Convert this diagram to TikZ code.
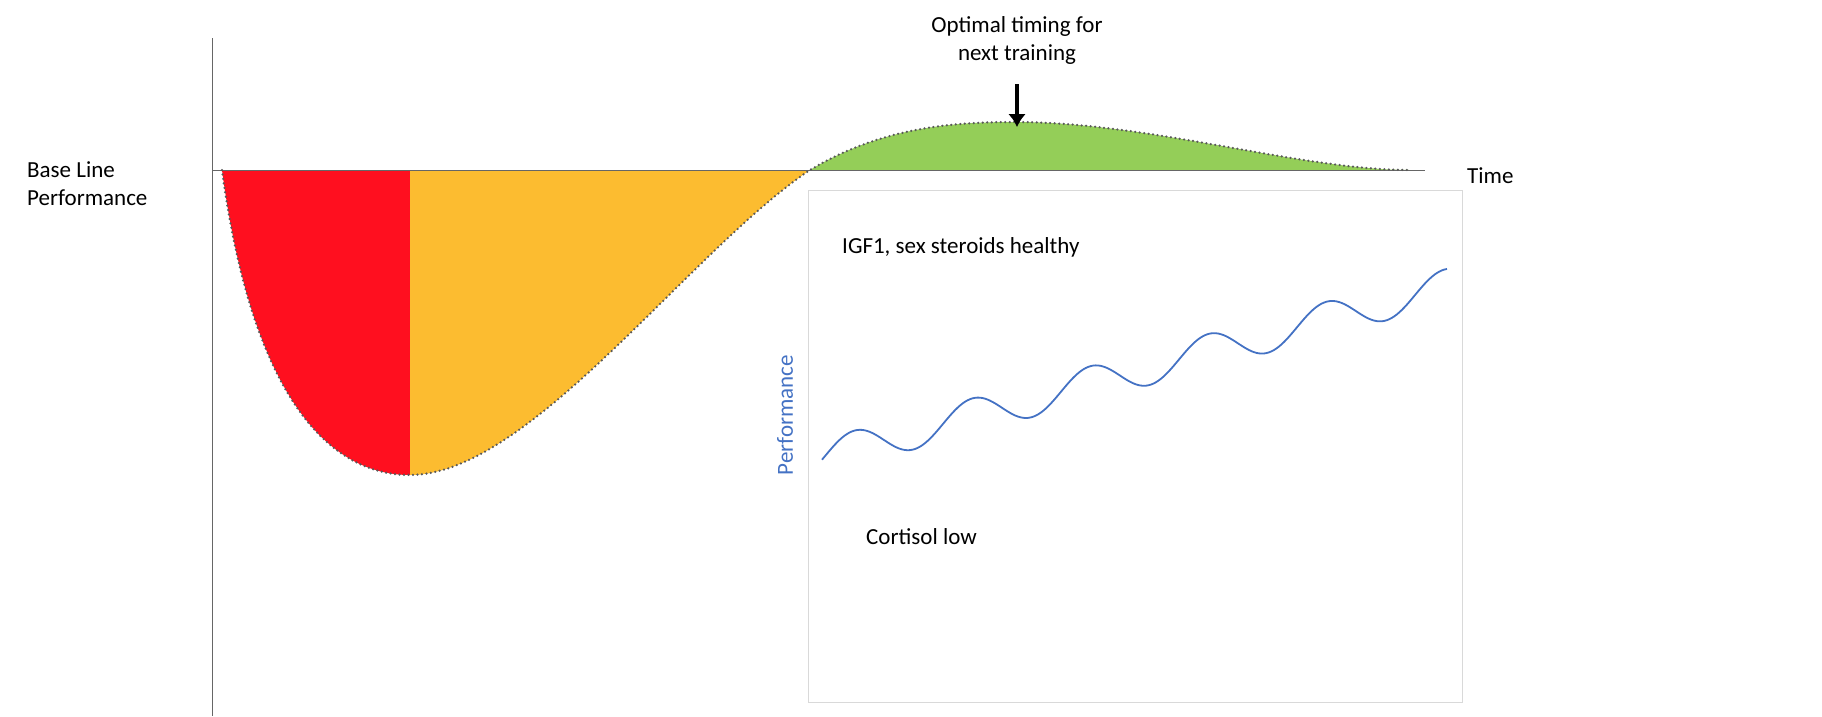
\documentclass[tikz,border=0pt]{standalone}
\usepackage{fontspec}
\usetikzlibrary{arrows.meta}
\setmainfont{Carlito}
\begin{document}
\begin{tikzpicture}[x=1pt,y=-1pt,
  lbl/.style={font=\fontsize{23}{28}\selectfont, align=center, inner sep=0pt},
  curve/.style={draw=gray!70!black, line width=2.5pt, dash pattern=on 0pt off 4.5pt, line cap=round}]
\useasboundingbox (0,0) rectangle (1822,716);
\definecolor{cred}{HTML}{FF0F1F}
\definecolor{corange}{HTML}{FCBC30}
\definecolor{cgreen}{HTML}{94CE58}
\definecolor{cblue}{HTML}{4472C4}
% fills
\fill[cred] (222,170) .. controls (250,380) and (320,475) .. (410,475) -- (410,170) -- cycle;
\fill[corange] (410,475) .. controls (530,475) and (690,250) .. (810,170) -- (410,170) -- cycle;
\fill[cgreen] (810,170) .. controls (880,128) and (950,122) .. (1015,122) .. controls (1150,122) and (1300,170) .. (1410,170) -- cycle;
% axes
\coordinate (ytop) at (212,38); \coordinate (ybot) at (212,716);
\coordinate (x0) at (212,170); \coordinate (x1) at (1425,170);
\draw[gray!80!black, line width=0.8pt] (ytop) -- (ybot);
\draw[gray!80!black, line width=0.8pt] (x0) -- (x1);
% dotted curve
\path[curve] (222,170) .. controls (250,380) and (320,475) .. (410,475)
  .. controls (530,475) and (690,250) .. (810,170)
  .. controls (880,128) and (950,122) .. (1015,122)
  .. controls (1150,122) and (1300,170) .. (1410,170);
% labels
\node[lbl, anchor=west, align=left] (base) at (27,184) {Base Line\\Performance};
\node[lbl, anchor=west] (time) at (1467,176) {Time};
\node[lbl] (opt) at (1017,40) {Optimal timing for\\next training};
\coordinate (arrtop) at (1017,84); \coordinate (arrbot) at (1017,127);
\draw[line width=4pt, -{Latex[length=13pt,width=18pt]}] (arrtop) -- (arrbot);
% inset
\node[draw=gray!30, line width=1pt, minimum width=654pt, minimum height=512pt, inner sep=0pt] (box) at (1135,446) {};
\node[lbl, anchor=west] (igf) at (842,247) {IGF1, sex steroids healthy};
\node[lbl, anchor=west] (cort) at (866,537) {Cortisol low};
\node[lbl, text=cblue, rotate=90] (perf) at (785,415) {Performance};
\draw[cblue, line width=1.8pt, line join=round] plot[domain=822:1447, samples=250] (\x, {440-0.273*(\x-884)+17.5*sin(3.0508*(\x-884))});
\end{tikzpicture}
\end{document}
